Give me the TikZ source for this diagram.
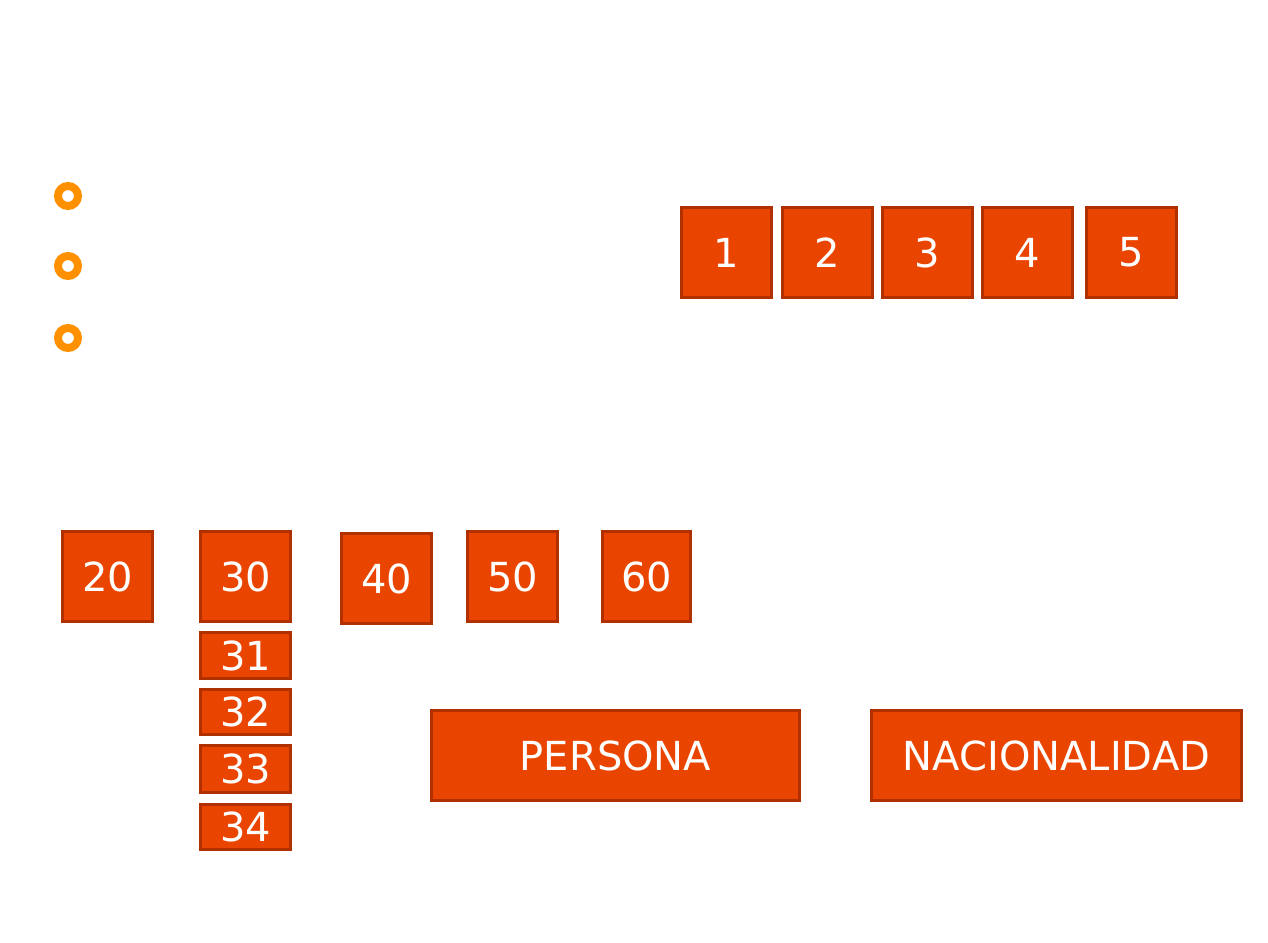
\documentclass[tikz,border=0pt]{standalone}
\usepackage{fontspec}
\setmainfont{DejaVu Sans}
\definecolor{boxfill}{HTML}{EA4500}
\definecolor{boxline}{HTML}{B03000}
\definecolor{bulletc}{HTML}{FF9000}
\begin{document}
\begin{tikzpicture}[x=1pt,y=-1pt,
  tile/.style={draw=boxline,fill=boxfill,line width=3pt,text=white,font=\fontsize{40}{40}\selectfont,inner sep=0pt,anchor=north west},
  ring/.style={draw=bulletc,line width=8pt}]
\useasboundingbox (0,0) rectangle (1268,942);
% bullets
\draw[ring] (68,196) circle (10);
\draw[ring] (68,266) circle (10);
\draw[ring] (68,338) circle (10);
% helper
\newcommand{\tileat}[6]{\node[tile,minimum width=#4-#2,minimum height=#5-#3] (#1) at (#2,#3) {#6};}
% top row
\node[tile,minimum width=90pt,minimum height=90pt] (b1) at (680,206) {1};
\node[tile,minimum width=90pt,minimum height=90pt] (b2) at (781,206) {2};
\node[tile,minimum width=90pt,minimum height=90pt] (b3) at (881,206) {3};
\node[tile,minimum width=90pt,minimum height=90pt] (b4) at (981,206) {4};
\node[tile,minimum width=90pt,minimum height=90pt] (b5) at (1085,206) {5};
% bottom row
\node[tile,minimum width=90pt,minimum height=90pt] (b20) at (61,530) {20};
\node[tile,minimum width=90pt,minimum height=90pt] (b30) at (199,530) {30};
\node[tile,minimum width=90pt,minimum height=90pt] (b40) at (340,532) {40};
\node[tile,minimum width=90pt,minimum height=90pt] (b50) at (466,530) {50};
\node[tile,minimum width=88pt,minimum height=90pt] (b60) at (601,530) {60};
% small column
\node[tile,minimum width=90pt,minimum height=46pt] (b31) at (199,631) {31};
\node[tile,minimum width=90pt,minimum height=45pt] (b32) at (199,688) {32};
\node[tile,minimum width=90pt,minimum height=47pt] (b33) at (199,744) {33};
\node[tile,minimum width=90pt,minimum height=45pt] (b34) at (199,803) {34};
% wide boxes
\node[tile,minimum width=368pt,minimum height=90pt] (persona) at (430,709) {PERSONA};
\node[tile,minimum width=370pt,minimum height=90pt] (nac) at (870,709) {NACIONALIDAD};
\end{tikzpicture}
\end{document}
